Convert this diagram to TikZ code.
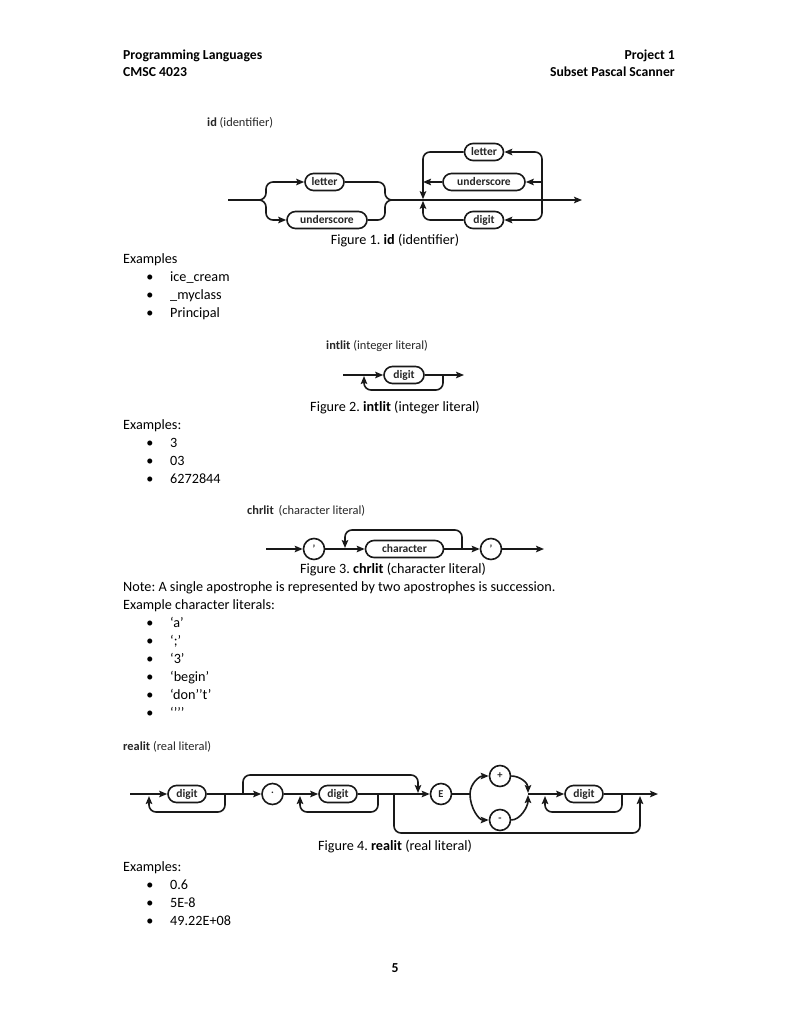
\documentclass[tikz,border=0pt]{standalone}
\usepackage{fontspec}
\setmainfont{Carlito}
\usetikzlibrary{arrows.meta}
\frenchspacing
\begin{document}
\begin{tikzpicture}[x=1pt,y=-1pt,
  txt/.style={anchor=base west, inner sep=0, font=\fontsize{14.2}{16}\selectfont},
  hdr/.style={inner sep=0, font=\fontsize{13.7}{16}\selectfont\bfseries},
  figcap/.style={anchor=base, inner sep=0, font=\fontsize{14.2}{16}\selectfont},
  lbl/.style={anchor=base west, inner sep=0, text=black!85, font=\fontsize{12.4}{13}\selectfont},
  bul/.style={anchor=base, inner sep=0, font=\fontsize{14.2}{16}\selectfont},
  term/.style={draw=black!90, line width=1.6pt, rounded corners=8.5pt, minimum height=17pt, inner sep=0pt, text=black!85, font=\fontsize{11.5}{12}\selectfont\bfseries},
  circ/.style={draw=black!90, circle, line width=1.6pt, minimum size=21pt, inner sep=0pt, text=black!85, font=\fontsize{10.5}{11}\selectfont\bfseries},
  ln/.style={draw=black!90, line width=1.6pt},
  arr/.style={-{Stealth[length=8pt,width=6.5pt,inset=1.5pt]}}
]
\useasboundingbox (0,0) rectangle (791,1024);

% header
\node[hdr, anchor=base west] (h1) at (123,60) {Programming Languages};
\node[hdr, anchor=base west] (h2) at (123,77) {CMSC 4023};
\node[hdr, anchor=base east] (h3) at (675,60) {Project 1};
\node[hdr, anchor=base east] (h4) at (675,77) {Subset Pascal Scanner};

% ---------------- Figure 1
\node[lbl] (t1) at (207,127) {\textbf{id} (identifier)};
\node[term, minimum width=39pt] (l1) at (324.5,182) {letter};
\node[term, minimum width=80pt] (u1) at (327,220) {underscore};
\node[term, minimum width=39pt] (l2) at (484,152) {letter};
\node[term, minimum width=82pt] (u2) at (484,182) {underscore};
\node[term, minimum width=39pt] (g1) at (484,220) {digit};
\coordinate (s1) at (228,200);
\coordinate (e1) at (582,200);
\draw[ln,arr,rounded corners=7pt] (s1) -- (266,200) |- (l1.west);
\draw[ln,arr,rounded corners=7pt] (s1) -- (266,200) |- (u1.west);
\draw[ln,rounded corners=7pt] (l1.east) -| (385,200) -- (396,200);
\draw[ln,rounded corners=7pt] (u1.east) -| (385,200) -- (396,200);
\draw[ln,arr] (390,200) -- (e1);
\draw[ln,arr,rounded corners=7pt] (542,200) |- (l2.east);
\draw[ln,arr] (542,182) -- (u2.east);
\draw[ln,arr,rounded corners=7pt] (542,200) |- (g1.east);
\draw[ln,arr,rounded corners=7pt] (l2.west) -| (423,199.2);
\draw[ln,arr] (u2.west) -- (423,182);
\draw[ln,arr,rounded corners=7pt] (g1.west) -| (423,200.8);
\node[figcap] (c1) at (395,244.5) {Figure 1. \textbf{id} (identifier)};

\node[txt] (x1) at (123,263.5) {Examples};
\foreach \y/\t in {281.5/ice\_cream, 299.5/\_myclass, 317.5/Principal}{
  \node[bul] at (150,\y) {•};
  \node[txt] at (170,\y) {\t};
}

% ---------------- Figure 2
\node[lbl] (t2) at (326,349) {\textbf{intlit} (integer literal)};
\node[term, minimum width=40pt] (g2) at (404,375) {digit};
\coordinate (s2) at (343,375);
\coordinate (e2) at (464,375);
\draw[ln,arr] (s2) -- (g2.west);
\draw[ln,arr] (g2.east) -- (e2);
\draw[ln,arr,rounded corners=7pt] (443,375) |- (364,390) -- (364,376);
\node[figcap] (c2) at (395,411.5) {Figure 2. \textbf{intlit} (integer literal)};

\node[txt] (x2) at (123,429) {Examples:};
\foreach \y/\t in {447/3, 465/03, 483/6272844}{
  \node[bul] at (150,\y) {•};
  \node[txt] at (170,\y) {\t};
}

% ---------------- Figure 3
\node[lbl] (t3) at (247,514) {\textbf{chrlit}\, (character literal)};
\node[circ] (q1) at (314,549) {\raisebox{-3.5pt}{’}};
\node[term, minimum width=78pt] (ch) at (404.5,549) {character};
\node[circ] (q2) at (491,549) {\raisebox{-3.5pt}{’}};
\coordinate (s3) at (266,549);
\coordinate (e3) at (544,549);
\draw[ln,arr] (s3) -- (q1.west);
\draw[ln,arr] (q1.east) -- (ch.west);
\draw[ln,arr] (ch.east) -- (q2.west);
\draw[ln,arr] (q2.east) -- (e3);
\draw[ln,arr,rounded corners=7pt] (462,549) |- (345,530) -- (345,548);
\node[figcap] (c3) at (393,573.5) {Figure 3. \textbf{chrlit} (character literal)};

\node[txt] (n3) at (123,591.5) {Note: A single apostrophe is represented by two apostrophes is succession.};
\node[txt] (x3) at (123,609.5) {Example character literals:};
\foreach \y/\t in {627.5/‘a’, 645.5/‘;’, 663.5/‘3’, 681.5/‘begin’, 699.5/‘don’’t’, 717.5/‘’’’}{
  \node[bul] at (150,\y) {•};
  \node[txt] at (170,\y) {\t};
}

% ---------------- Figure 4
\node[lbl] (t4) at (123,750) {\textbf{realit} (real literal)};
\node[term, minimum width=38pt] (ga) at (187,794) {digit};
\node[circ] (dot) at (272.5,794) {\raisebox{1.5pt}{.}};
\node[term, minimum width=38pt] (gb) at (338,794) {digit};
\node[circ] (ee) at (441,794) {E};
\node[circ] (pl) at (500,776) {+};
\node[circ] (mi) at (500,820) {-};
\node[term, minimum width=38pt] (gc) at (584,794) {digit};
\coordinate (s4) at (130,794);
\coordinate (e4) at (658,794);
\coordinate (sp) at (470,794);
\coordinate (mg) at (528,794);
\draw[ln,arr] (s4) -- (ga.west);
\draw[ln,arr] (ga.east) -- (dot.west);
\draw[ln,arr,rounded corners=7pt] (225,794) |- (149,812) -- (149,796);
\draw[ln,arr,rounded corners=7pt] (243,794) |- (418,775) -- (418,793);
\draw[ln,arr] (dot.east) -- (gb.west);
\draw[ln,arr,rounded corners=7pt] (378,794) |- (300,812) -- (300,796);
\draw[ln,arr] (gb.east) -- (ee.west);
\draw[ln,arr,rounded corners=7pt] (394,794) |- (640,833) -- (640,796);
\draw[ln] (ee.east) -- (sp);
\draw[ln,arr] (sp) .. controls (470,784) and (479,776) .. (pl.west);
\draw[ln,arr] (sp) .. controls (470,808) and (479,820) .. (mi.west);
\draw[ln,arr] (pl.east) .. controls (520,776) and (528,783) .. (528,793);
\draw[ln,arr] (mi.east) .. controls (520,820) and (528,807) .. (528,795);
\draw[ln,arr] (mg) -- (gc.west);
\draw[ln,arr,rounded corners=7pt] (622,794) |- (545,812) -- (545,796);
\draw[ln,arr] (gc.east) -- (e4);
\node[figcap] (c4) at (395,850.5) {Figure 4. \textbf{realit} (real literal)};

\node[txt] (x4) at (123,871.5) {Examples:};
\foreach \y/\t in {889.5/0.6, 907.5/5E-8, 925.5/49.22E+08}{
  \node[bul] at (150,\y) {•};
  \node[txt] at (170,\y) {\t};
}

\node[hdr, anchor=base] (pg) at (395,972) {5};
\end{tikzpicture}
\end{document}
